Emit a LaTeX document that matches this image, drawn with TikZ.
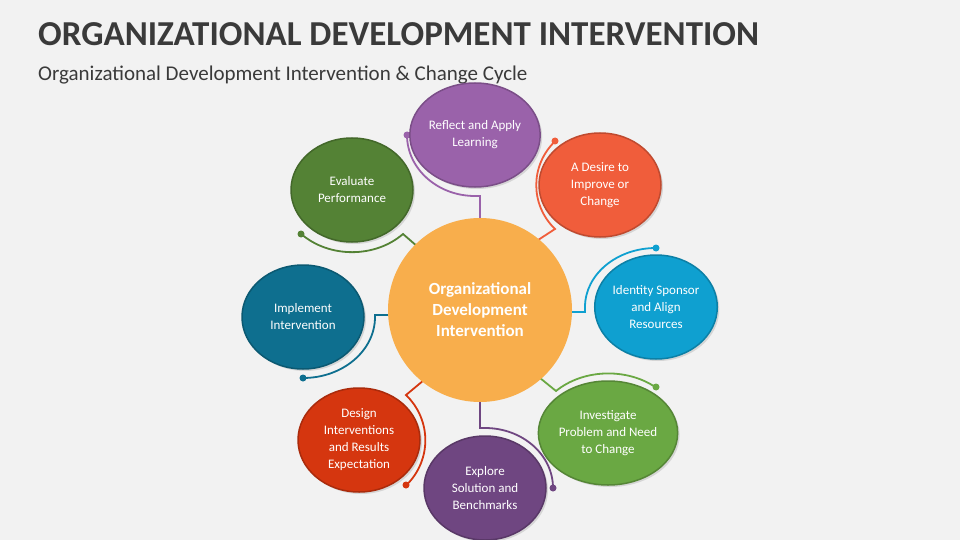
\documentclass[tikz,border=0pt]{standalone}
\usepackage{fontspec}
\setmainfont{Carlito}
\usetikzlibrary{shadows}
\definecolor{bg}{HTML}{F2F2F2}
\definecolor{ttl}{HTML}{3A3A3A}
\definecolor{cReflect}{HTML}{9A62AA}
\definecolor{cDesire}{HTML}{F05D3B}
\definecolor{cEval}{HTML}{548235}
\definecolor{cIdent}{HTML}{0FA0D0}
\definecolor{cImpl}{HTML}{0E6F8F}
\definecolor{cInv}{HTML}{6AA843}
\definecolor{cDesign}{HTML}{D5360F}
\definecolor{cExpl}{HTML}{6F4681}
\definecolor{cCenter}{HTML}{F8AE4C}
\tikzset{
  bubble/.style={ellipse, draw=#1!80!black, line width=1.5pt, fill=#1, minimum width=122pt, minimum height=104pt,
    inner sep=0pt, text=white, align=center, font=\fontsize{13}{17}\selectfont,
    drop shadow={shadow xshift=2pt, shadow yshift=-2pt, opacity=0.25}},
  conn/.style={draw=#1, line width=1.8pt},
  dotend/.style={fill=#1, circle, inner sep=0pt, minimum size=7pt},
}
\begin{document}
\begin{tikzpicture}[x=1pt,y=-1pt]
\usetikzlibrary{shapes.geometric}
\fill[bg] (0,0) rectangle (960,540);
\useasboundingbox (0,0) rectangle (960,540);
\node[anchor=base west, text=ttl, font=\fontsize{35}{40}\selectfont\bfseries, inner sep=0pt] (title) at (38,46) {ORGANIZATIONAL DEVELOPMENT INTERVENTION};
\node[anchor=base west, text=ttl, font=\fontsize{21}{24}\selectfont, inner sep=0pt] (sub) at (38,81) {Organizational Development Intervention \& Change Cycle};

% connectors
\coordinate (dReflect) at (407,135);
\draw[conn=cReflect] (480,222) -- (480,196) -- (475,196) arc[start angle=90,end angle=180,x radius=68,y radius=61];
\coordinate (dDesire) at (555,141);
\draw[conn=cDesire] (535,242) -- (555,229) arc[start angle=135,end angle=225,x radius=64,y radius=62];
\draw[conn=cEval] (418,247) -- (403,234) arc[start angle=45,end angle=135,x radius=72,y radius=62];
\coordinate (dEval) at (301,234);
\draw[conn=cIdent] (568,312) -- (585,312) -- (585,307) arc[start angle=180,end angle=270,x radius=71,y radius=59];
\coordinate (dIdent) at (656,248);
\draw[conn=cImpl] (392,315) -- (375,315) -- (375,317) arc[start angle=0,end angle=90,x radius=72,y radius=61];
\coordinate (dImpl) at (303,378);
\draw[conn=cInv] (540,378) -- (556,391) arc[start angle=225,end angle=310,x radius=74,y radius=60];
\coordinate (dInv) at (656,387);
\draw[conn=cExpl] (480,398) -- (480,428) -- (485,428) arc[start angle=270,end angle=360,x radius=68,y radius=60];
\coordinate (dExpl) at (553,488);
\draw[conn=cDesign] (424,380) -- (406,395) arc[start angle=-45,end angle=45,x radius=66,y radius=64];
\coordinate (dDesign) at (406,485);
\foreach \p/\c in {dReflect/cReflect,dDesire/cDesire,dEval/cEval,dIdent/cIdent,dImpl/cImpl,dInv/cInv,dExpl/cExpl,dDesign/cDesign}
  \node[dotend=\c] at (\p) {};

\node[bubble=cReflect] (reflect) at (475,135) {Reflect and Apply\\Learning};
\node[bubble=cDesire] (desire) at (600,185) {A Desire to\\Improve or\\Change};
\node[bubble=cEval] (eval) at (352,190) {Evaluate\\Performance};
\node[bubble=cIdent] (ident) at (656,307) {Identity Sponsor\\and Align\\Resources};
\node[bubble=cImpl] (impl) at (303,317) {Implement\\Intervention};
\node[bubble=cInv] (inv) at (608,433) {Investigate\\Problem and Need\\to Change};
\node[bubble=cDesign] (design) at (359,440) {Design\\Interventions\\and Results\\Expectation};
\node[bubble=cExpl] (expl) at (485,488) {Explore\\Solution and\\Benchmarks};
\node[circle, fill=cCenter, minimum size=184pt, inner sep=0pt, text=white, align=center,
  font=\fontsize{17}{21}\selectfont\bfseries] (center) at (480,310) {Organizational\\Development\\Intervention};
\end{tikzpicture}
\end{document}
